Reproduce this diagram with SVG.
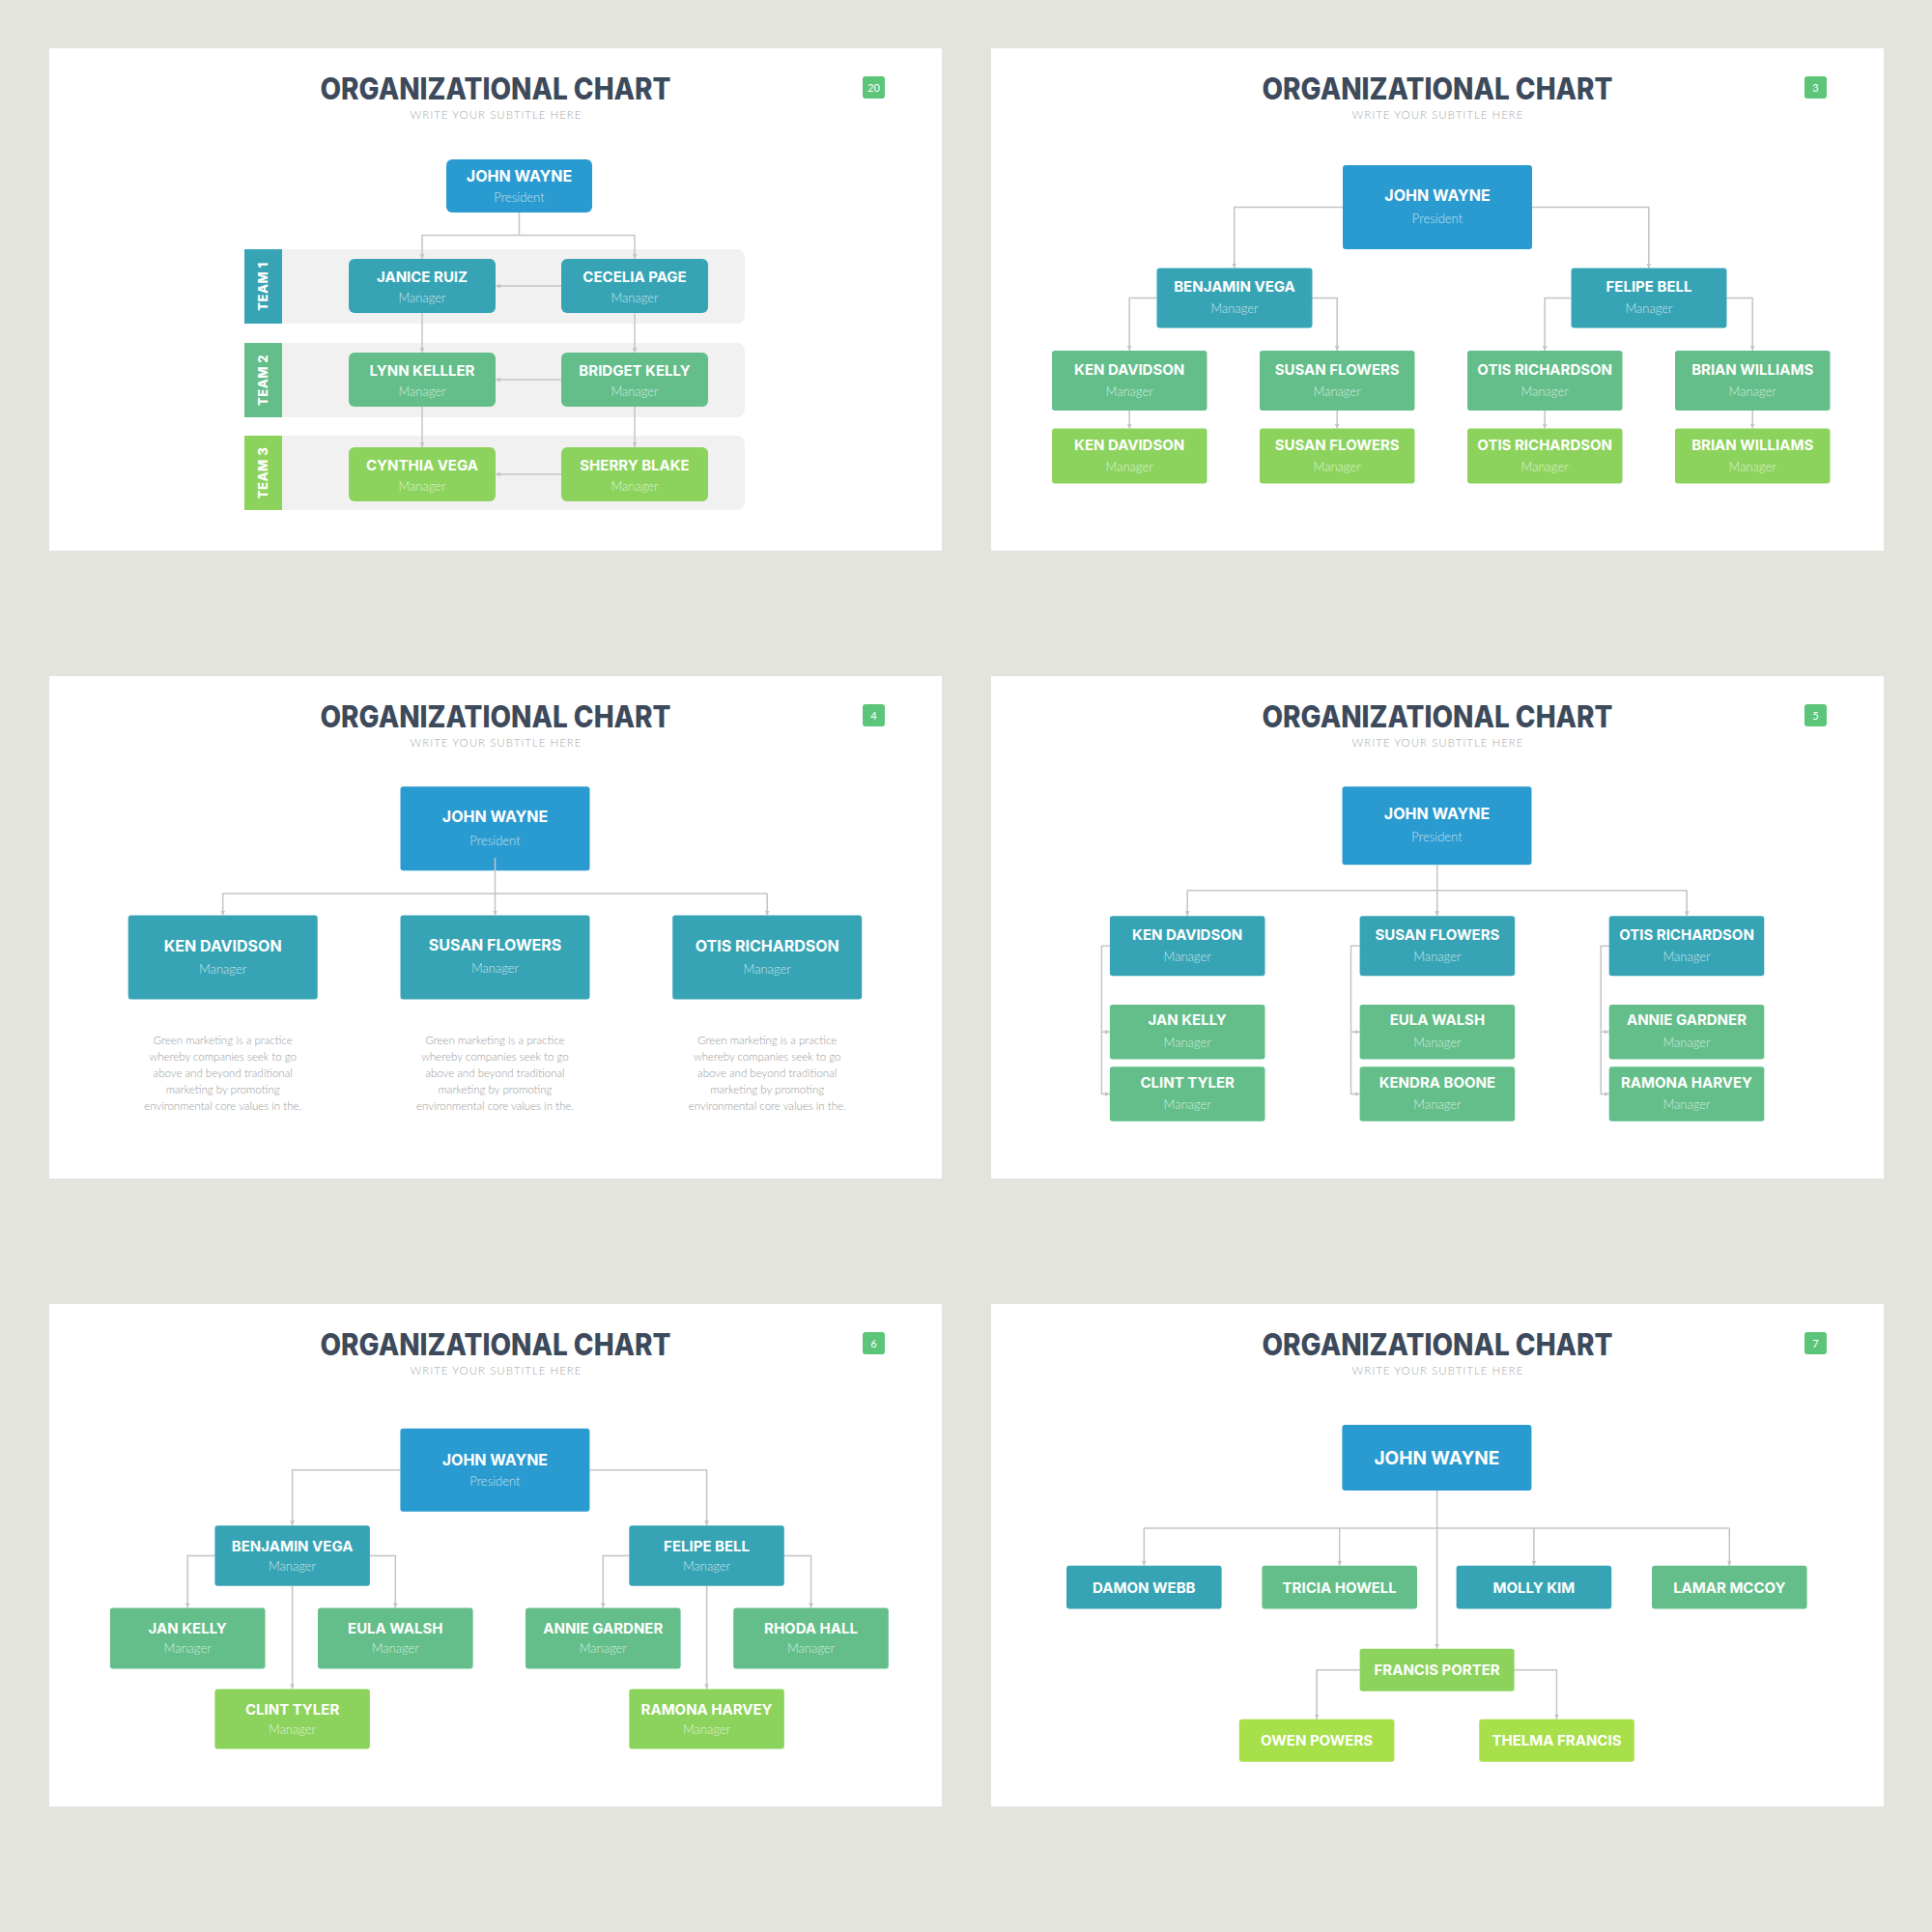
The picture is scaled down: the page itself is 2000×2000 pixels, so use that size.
<svg xmlns="http://www.w3.org/2000/svg" width="2000" height="2000" viewBox="0 0 2000 2000">
<style>
.title{font-family:Inter,"Liberation Sans",sans-serif;font-weight:800;font-size:31px;fill:#3d4a5c;text-anchor:middle}
.sub{font-family:Lato,"Liberation Sans",sans-serif;font-weight:300;font-size:11.5px;fill:#a8a8a8;text-anchor:middle}
.bnum{font-family:Lato,"Liberation Sans",sans-serif;font-size:11px;fill:#fff;text-anchor:middle}
.n{font-family:Inter,"Liberation Sans",sans-serif;font-weight:700;fill:#fff;text-anchor:middle;font-size:15px}
.nl{font-family:Inter,"Liberation Sans",sans-serif;font-weight:700;fill:#fff;text-anchor:middle;font-size:16px}
.nx{font-family:Inter,"Liberation Sans",sans-serif;font-weight:700;fill:#fff;text-anchor:middle;font-size:19px}
.r{font-family:Lato,"Liberation Sans",sans-serif;font-weight:300;fill:#fff;fill-opacity:0.72;text-anchor:middle;font-size:13px}
.p{font-family:Lato,"Liberation Sans",sans-serif;font-weight:300;fill:#9a9a9a;text-anchor:middle;font-size:11.5px}
.team{font-family:Inter,"Liberation Sans",sans-serif;font-weight:800;fill:#fff;text-anchor:middle;font-size:13px;letter-spacing:0.5px}
.c{fill:none;stroke:#c4c4c4;stroke-width:1.5}
.a{marker-end:url(#ar)}
.blue{fill:#2a9bd0}.teal{fill:#37a4b5}.green{fill:#63be89}.lgreen{fill:#8cd35d}.lime{fill:#a7e04a}
.badge{fill:#5cc57a}.band{fill:#f1f1f1}.panel{fill:#fff}
</style>
<defs>
<marker id="ar" viewBox="0 0 6 6" refX="6" refY="3" markerWidth="5" markerHeight="5" orient="auto" markerUnits="userSpaceOnUse"><path d="M0,0 L6,3 L0,6z" fill="#c4c4c4"/></marker>
</defs>
<rect width="2000" height="2000" fill="#e4e4df"/>

<!-- PANEL 1 -->
<g id="panel1" transform="translate(51,50)">
<rect class="panel" width="924" height="520"/>
<text class="title" x="462" y="52.5" textLength="363" lengthAdjust="spacingAndGlyphs">ORGANIZATIONAL CHART</text>
<text class="sub" x="462" y="72.5" textLength="177" lengthAdjust="spacing">WRITE YOUR SUBTITLE HERE</text>
<rect class="badge" x="842" y="29" width="23" height="23" rx="3"/>
<text class="bnum" x="853.5" y="44.5">20</text>
<g id="p1-bands">
<rect class="band" x="202" y="208" width="518" height="77" rx="8"/>
<rect class="teal" x="202" y="208" width="39" height="77"/>
<text class="team" transform="translate(226,246.5) rotate(-90)">TEAM 1</text>
<rect class="band" x="202" y="305" width="518" height="77" rx="8"/>
<rect class="green" x="202" y="305" width="39" height="77"/>
<text class="team" transform="translate(226,343.5) rotate(-90)">TEAM 2</text>
<rect class="band" x="202" y="401" width="518" height="77" rx="8"/>
<rect class="lgreen" x="202" y="401" width="39" height="77"/>
<text class="team" transform="translate(226,439.5) rotate(-90)">TEAM 3</text>
</g>
<g id="p1-connectors">
<path class="c" d="M486.5,170 V193.5"/>
<path class="c a" d="M486.5,193.5 H386 V218"/>
<path class="c a" d="M486.5,193.5 H606 V218"/>
<path class="c a" d="M530,246 H462"/>
<path class="c a" d="M530,343 H462"/>
<path class="c a" d="M530,441 H462"/>
<path class="c a" d="M386,274 V315"/>
<path class="c a" d="M606,274 V315"/>
<path class="c a" d="M386,371 V413"/>
<path class="c a" d="M606,371 V413"/>
</g>
<g id="p1-john"><rect class="blue" x="411" y="115" width="151" height="55" rx="6"/><text class="nl" x="486.5" y="137.5">JOHN WAYNE</text><text class="r" x="486.5" y="159">President</text></g>
<g id="p1-janice"><rect class="teal" x="310" y="218" width="152" height="56" rx="6"/><text class="n" x="386" y="241.5">JANICE RUIZ</text><text class="r" x="386" y="262.5">Manager</text></g>
<g id="p1-cecelia"><rect class="teal" x="530" y="218" width="152" height="56" rx="6"/><text class="n" x="606" y="241.5">CECELIA PAGE</text><text class="r" x="606" y="262.5">Manager</text></g>
<g id="p1-lynn"><rect class="green" x="310" y="315" width="152" height="56" rx="6"/><text class="n" x="386" y="338.5">LYNN KELLLER</text><text class="r" x="386" y="359.5">Manager</text></g>
<g id="p1-bridget"><rect class="green" x="530" y="315" width="152" height="56" rx="6"/><text class="n" x="606" y="338.5">BRIDGET KELLY</text><text class="r" x="606" y="359.5">Manager</text></g>
<g id="p1-cynthia"><rect class="lgreen" x="310" y="413" width="152" height="56" rx="6"/><text class="n" x="386" y="436.5">CYNTHIA VEGA</text><text class="r" x="386" y="457.5">Manager</text></g>
<g id="p1-sherry"><rect class="lgreen" x="530" y="413" width="152" height="56" rx="6"/><text class="n" x="606" y="436.5">SHERRY BLAKE</text><text class="r" x="606" y="457.5">Manager</text></g>
</g>

<!-- PANEL 2 -->
<g id="panel2" transform="translate(1026,50)">
<rect class="panel" width="924" height="520"/>
<text class="title" x="462" y="52.5" textLength="363" lengthAdjust="spacingAndGlyphs">ORGANIZATIONAL CHART</text>
<text class="sub" x="462" y="72.5" textLength="177" lengthAdjust="spacing">WRITE YOUR SUBTITLE HERE</text>
<rect class="badge" x="842" y="29" width="23" height="23" rx="3"/>
<text class="bnum" x="853.5" y="44.5">3</text>
<g id="p2-connectors">
<path class="c a" d="M364,164.5 H251.7 V227.6"/>
<path class="c a" d="M560,164.5 H680.8 V227.6"/>
<path class="c a" d="M171.5,258.6 H143.2 V313"/>
<path class="c a" d="M332.5,258.6 H358.2 V313"/>
<path class="c a" d="M600.5,258.6 H573.2 V313"/>
<path class="c a" d="M761.5,258.6 H788.2 V313"/>
<path class="c a" d="M143.2,375 V393.6"/>
<path class="c a" d="M358.2,375 V393.6"/>
<path class="c a" d="M573.2,375 V393.6"/>
<path class="c a" d="M788.2,375 V393.6"/>
</g>
<g id="p2-john"><rect class="blue" x="364" y="121" width="196" height="87" rx="3"/><text class="nl" x="462" y="158">JOHN WAYNE</text><text class="r" x="462" y="180.5">President</text></g>
<g id="p2-benjamin"><rect class="teal" x="171.5" y="227.6" width="161" height="62" rx="3"/><text class="n" x="252" y="252">BENJAMIN VEGA</text><text class="r" x="252" y="274">Manager</text></g>
<g id="p2-felipe"><rect class="teal" x="600.5" y="227.6" width="161" height="62" rx="3"/><text class="n" x="681" y="252">FELIPE BELL</text><text class="r" x="681" y="274">Manager</text></g>
<g id="p2-ken1"><rect class="green" x="63" y="313" width="160.5" height="62" rx="3"/><text class="n" x="143.2" y="337.5">KEN DAVIDSON</text><text class="r" x="143.2" y="359.5">Manager</text></g>
<g id="p2-susan1"><rect class="green" x="278" y="313" width="160.5" height="62" rx="3"/><text class="n" x="358.2" y="337.5">SUSAN FLOWERS</text><text class="r" x="358.2" y="359.5">Manager</text></g>
<g id="p2-otis1"><rect class="green" x="493" y="313" width="160.5" height="62" rx="3"/><text class="n" x="573.2" y="337.5">OTIS RICHARDSON</text><text class="r" x="573.2" y="359.5">Manager</text></g>
<g id="p2-brian1"><rect class="green" x="708" y="313" width="160.5" height="62" rx="3"/><text class="n" x="788.2" y="337.5">BRIAN WILLIAMS</text><text class="r" x="788.2" y="359.5">Manager</text></g>
<g id="p2-ken2"><rect class="lgreen" x="63" y="393.6" width="160.5" height="57" rx="3"/><text class="n" x="143.2" y="415.5">KEN DAVIDSON</text><text class="r" x="143.2" y="437.5">Manager</text></g>
<g id="p2-susan2"><rect class="lgreen" x="278" y="393.6" width="160.5" height="57" rx="3"/><text class="n" x="358.2" y="415.5">SUSAN FLOWERS</text><text class="r" x="358.2" y="437.5">Manager</text></g>
<g id="p2-otis2"><rect class="lgreen" x="493" y="393.6" width="160.5" height="57" rx="3"/><text class="n" x="573.2" y="415.5">OTIS RICHARDSON</text><text class="r" x="573.2" y="437.5">Manager</text></g>
<g id="p2-brian2"><rect class="lgreen" x="708" y="393.6" width="160.5" height="57" rx="3"/><text class="n" x="788.2" y="415.5">BRIAN WILLIAMS</text><text class="r" x="788.2" y="437.5">Manager</text></g>
</g>

<!-- PANEL 3 -->
<g id="panel3" transform="translate(51,700)">
<rect class="panel" width="924" height="520"/>
<text class="title" x="462" y="52.5" textLength="363" lengthAdjust="spacingAndGlyphs">ORGANIZATIONAL CHART</text>
<text class="sub" x="462" y="72.5" textLength="177" lengthAdjust="spacing">WRITE YOUR SUBTITLE HERE</text>
<rect class="badge" x="842" y="29" width="23" height="23" rx="3"/>
<text class="bnum" x="853.5" y="44.5">4</text>
<g id="p3-john"><rect class="blue" x="363.5" y="114.3" width="196" height="87" rx="3"/><text class="nl" x="461.5" y="151">JOHN WAYNE</text><text class="r" x="461.5" y="174.5">President</text></g>
<g id="p3-ken"><rect class="teal" x="81.7" y="247.6" width="196" height="87" rx="3"/><text class="nl" x="179.7" y="285">KEN DAVIDSON</text><text class="r" x="179.7" y="308">Manager</text>
<text class="p" x="179.7"><tspan x="179.7" y="380.5">Green marketing is a practice</tspan><tspan x="179.7" y="397.5">whereby companies seek to go</tspan><tspan x="179.7" y="414.5">above and beyond traditional</tspan><tspan x="179.7" y="431.5">marketing by promoting</tspan><tspan x="179.7" y="448.5">environmental core values in the.</tspan></text></g>
<g id="p3-susan"><rect class="teal" x="363.5" y="247.6" width="196" height="87" rx="3"/><text class="nl" x="461.5" y="284">SUSAN FLOWERS</text><text class="r" x="461.5" y="307">Manager</text>
<text class="p" x="461.5"><tspan x="461.5" y="380.5">Green marketing is a practice</tspan><tspan x="461.5" y="397.5">whereby companies seek to go</tspan><tspan x="461.5" y="414.5">above and beyond traditional</tspan><tspan x="461.5" y="431.5">marketing by promoting</tspan><tspan x="461.5" y="448.5">environmental core values in the.</tspan></text></g>
<g id="p3-otis"><rect class="teal" x="645.2" y="247.6" width="196" height="87" rx="3"/><text class="nl" x="743.2" y="285">OTIS RICHARDSON</text><text class="r" x="743.2" y="308">Manager</text>
<text class="p" x="743.2"><tspan x="743.2" y="380.5">Green marketing is a practice</tspan><tspan x="743.2" y="397.5">whereby companies seek to go</tspan><tspan x="743.2" y="414.5">above and beyond traditional</tspan><tspan x="743.2" y="431.5">marketing by promoting</tspan><tspan x="743.2" y="448.5">environmental core values in the.</tspan></text></g>
<g id="p3-connectors">
<path class="c a" d="M461.5,188 V247.6"/>
<path class="c" d="M179.7,224.9 H743.2"/>
<path class="c a" d="M179.7,224.9 V247.6"/>
<path class="c a" d="M743.2,224.9 V247.6"/>
</g>
</g>

<!-- PANEL 4 -->
<g id="panel4" transform="translate(1026,700)">
<rect class="panel" width="924" height="520"/>
<text class="title" x="462" y="52.5" textLength="363" lengthAdjust="spacingAndGlyphs">ORGANIZATIONAL CHART</text>
<text class="sub" x="462" y="72.5" textLength="177" lengthAdjust="spacing">WRITE YOUR SUBTITLE HERE</text>
<rect class="badge" x="842" y="29" width="23" height="23" rx="3"/>
<text class="bnum" x="853.5" y="44.5">5</text>
<g id="p4-connectors">
<path class="c a" d="M461.7,195.3 V248.3"/>
<path class="c" d="M203.2,221.8 H720.2"/>
<path class="c a" d="M203.2,221.8 V248.3"/>
<path class="c a" d="M720.2,221.8 V248.3"/>
<path class="c a" d="M122.9,279.3 H114.4 V432.5 H122.9"/>
<path class="c a" d="M114.4,368.2 H122.9"/>
<path class="c a" d="M381.6,279.3 H372.5 V432.5 H381.6"/>
<path class="c a" d="M372.5,368.2 H381.6"/>
<path class="c a" d="M639.7,279.3 H631.2 V432.5 H639.7"/>
<path class="c a" d="M631.2,368.2 H639.7"/>
</g>
<g id="p4-john"><rect class="blue" x="363.5" y="114.3" width="196" height="81" rx="3"/><text class="nl" x="461.5" y="148">JOHN WAYNE</text><text class="r" x="461.5" y="170.5">President</text></g>
<g id="p4-ken"><rect class="teal" x="122.9" y="248.3" width="160.6" height="62" rx="3"/><text class="n" x="203.2" y="272.7">KEN DAVIDSON</text><text class="r" x="203.2" y="294.8">Manager</text></g>
<g id="p4-susan"><rect class="teal" x="381.6" y="248.3" width="160.6" height="62" rx="3"/><text class="n" x="461.9" y="272.7">SUSAN FLOWERS</text><text class="r" x="461.9" y="294.8">Manager</text></g>
<g id="p4-otis"><rect class="teal" x="639.7" y="248.3" width="160.6" height="62" rx="3"/><text class="n" x="720" y="272.7">OTIS RICHARDSON</text><text class="r" x="720" y="294.8">Manager</text></g>
<g id="p4-jan"><rect class="green" x="122.9" y="339.9" width="160.6" height="56.5" rx="3"/><text class="n" x="203.2" y="361">JAN KELLY</text><text class="r" x="203.2" y="383.7">Manager</text></g>
<g id="p4-clint"><rect class="green" x="122.9" y="404.3" width="160.6" height="56.5" rx="3"/><text class="n" x="203.2" y="426">CLINT TYLER</text><text class="r" x="203.2" y="448">Manager</text></g>
<g id="p4-eula"><rect class="green" x="381.6" y="339.9" width="160.6" height="56.5" rx="3"/><text class="n" x="461.9" y="361">EULA WALSH</text><text class="r" x="461.9" y="383.7">Manager</text></g>
<g id="p4-kendra"><rect class="green" x="381.6" y="404.3" width="160.6" height="56.5" rx="3"/><text class="n" x="461.9" y="426">KENDRA BOONE</text><text class="r" x="461.9" y="448">Manager</text></g>
<g id="p4-annie"><rect class="green" x="639.7" y="339.9" width="160.6" height="56.5" rx="3"/><text class="n" x="720" y="361">ANNIE GARDNER</text><text class="r" x="720" y="383.7">Manager</text></g>
<g id="p4-ramona"><rect class="green" x="639.7" y="404.3" width="160.6" height="56.5" rx="3"/><text class="n" x="720" y="426">RAMONA HARVEY</text><text class="r" x="720" y="448">Manager</text></g>
</g>

<!-- PANEL 5 -->
<g id="panel5" transform="translate(51,1350)">
<rect class="panel" width="924" height="520"/>
<text class="title" x="462" y="52.5" textLength="363" lengthAdjust="spacingAndGlyphs">ORGANIZATIONAL CHART</text>
<text class="sub" x="462" y="72.5" textLength="177" lengthAdjust="spacing">WRITE YOUR SUBTITLE HERE</text>
<rect class="badge" x="842" y="29" width="23" height="23" rx="3"/>
<text class="bnum" x="853.5" y="44.5">6</text>
<g id="p5-connectors">
<path class="c a" d="M363.4,171.8 H251.6 V229.3"/>
<path class="c a" d="M559.4,171.8 H680.6 V229.3"/>
<path class="c a" d="M171.4,260.5 H143.2 V314.4"/>
<path class="c a" d="M331.9,260.5 H358.3 V314.4"/>
<path class="c a" d="M600.3,260.5 H573.3 V314.4"/>
<path class="c a" d="M760.8,260.5 H788.5 V314.4"/>
<path class="c a" d="M251.6,291.7 V398.4"/>
<path class="c a" d="M680.6,291.7 V398.4"/>
</g>
<g id="p5-john"><rect class="blue" x="363.4" y="128.8" width="196" height="86" rx="3"/><text class="nl" x="461.4" y="167">JOHN WAYNE</text><text class="r" x="461.4" y="187.5">President</text></g>
<g id="p5-benjamin"><rect class="teal" x="171.4" y="229.3" width="160.5" height="62.4" rx="3"/><text class="n" x="251.6" y="255.5">BENJAMIN VEGA</text><text class="r" x="251.6" y="276">Manager</text></g>
<g id="p5-felipe"><rect class="teal" x="600.3" y="229.3" width="160.5" height="62.4" rx="3"/><text class="n" x="680.6" y="255.5">FELIPE BELL</text><text class="r" x="680.6" y="276">Manager</text></g>
<g id="p5-jan"><rect class="green" x="62.9" y="314.4" width="160.6" height="63" rx="3"/><text class="n" x="143.2" y="340.5">JAN KELLY</text><text class="r" x="143.2" y="361">Manager</text></g>
<g id="p5-eula"><rect class="green" x="278" y="314.4" width="160.6" height="63" rx="3"/><text class="n" x="358.3" y="340.5">EULA WALSH</text><text class="r" x="358.3" y="361">Manager</text></g>
<g id="p5-annie"><rect class="green" x="493" y="314.4" width="160.6" height="63" rx="3"/><text class="n" x="573.3" y="340.5">ANNIE GARDNER</text><text class="r" x="573.3" y="361">Manager</text></g>
<g id="p5-rhoda"><rect class="green" x="708.2" y="314.4" width="160.6" height="63" rx="3"/><text class="n" x="788.5" y="340.5">RHODA HALL</text><text class="r" x="788.5" y="361">Manager</text></g>
<g id="p5-clint"><rect class="lgreen" x="171.4" y="398.4" width="160.5" height="62" rx="3"/><text class="n" x="251.6" y="424.5">CLINT TYLER</text><text class="r" x="251.6" y="445">Manager</text></g>
<g id="p5-ramona"><rect class="lgreen" x="600.3" y="398.4" width="160.5" height="62" rx="3"/><text class="n" x="680.6" y="424.5">RAMONA HARVEY</text><text class="r" x="680.6" y="445">Manager</text></g>
</g>

<!-- PANEL 6 -->
<g id="panel6" transform="translate(1026,1350)">
<rect class="panel" width="924" height="520"/>
<text class="title" x="462" y="52.5" textLength="363" lengthAdjust="spacingAndGlyphs">ORGANIZATIONAL CHART</text>
<text class="sub" x="462" y="72.5" textLength="177" lengthAdjust="spacing">WRITE YOUR SUBTITLE HERE</text>
<rect class="badge" x="842" y="29" width="23" height="23" rx="3"/>
<text class="bnum" x="853.5" y="44.5">7</text>
<g id="p6-connectors">
<path class="c a" d="M461.6,193 V356.8"/>
<path class="c" d="M158.3,232.1 H764.3"/>
<path class="c a" d="M158.3,232.1 V270.7"/>
<path class="c a" d="M360.7,232.1 V270.7"/>
<path class="c a" d="M561.9,232.1 V270.7"/>
<path class="c a" d="M764.3,232.1 V270.7"/>
<path class="c a" d="M381.6,378.8 H337.1 V429.8"/>
<path class="c a" d="M541.6,378.8 H585.5 V429.8"/>
</g>
<g id="p6-john"><rect class="blue" x="363.4" y="125" width="196" height="68" rx="3"/><text class="nx" x="461.4" y="165.5">JOHN WAYNE</text></g>
<g id="p6-damon"><rect class="teal" x="78" y="270.7" width="160.6" height="44.7" rx="3"/><text class="n" x="158.3" y="298.5">DAMON WEBB</text></g>
<g id="p6-tricia"><rect class="green" x="280.4" y="270.7" width="160.6" height="44.7" rx="3"/><text class="n" x="360.7" y="298.5">TRICIA HOWELL</text></g>
<g id="p6-molly"><rect class="teal" x="481.6" y="270.7" width="160.6" height="44.7" rx="3"/><text class="n" x="561.9" y="298.5">MOLLY KIM</text></g>
<g id="p6-lamar"><rect class="green" x="684" y="270.7" width="160.6" height="44.7" rx="3"/><text class="n" x="764.3" y="298.5">LAMAR MCCOY</text></g>
<g id="p6-francis"><rect class="lgreen" x="381.6" y="356.8" width="160" height="44" rx="3"/><text class="n" x="461.6" y="384">FRANCIS PORTER</text></g>
<g id="p6-owen"><rect class="lime" x="256.8" y="429.8" width="160.6" height="44" rx="3"/><text class="n" x="337.1" y="457">OWEN POWERS</text></g>
<g id="p6-thelma"><rect class="lime" x="505.2" y="429.8" width="160.6" height="44" rx="3"/><text class="n" x="585.5" y="457">THELMA FRANCIS</text></g>
</g>
</svg>
